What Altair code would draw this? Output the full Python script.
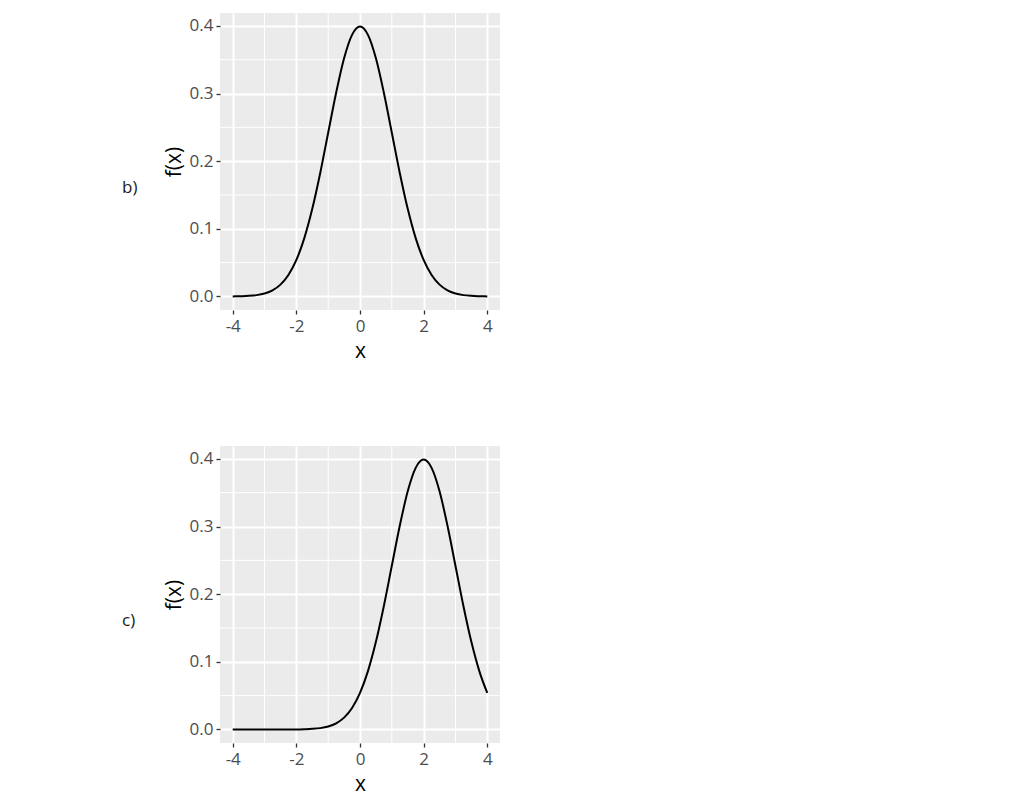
import altair as alt
import pandas as pd

# values
x_vals = [-4.0, -3.75, -3.5, -3.25, -3.0, -2.75, -2.5, -2.25, -2.0, -1.75, -1.5, -1.25,
          -1.0, -0.75, -0.5, -0.25, 0.0, 0.25, 0.5, 0.75, 1.0, 1.25, 1.5, 1.75,
          2.0, 2.25, 2.5, 2.75, 3.0, 3.25, 3.5, 3.75, 4.0]
fb_vals = [0.0001, 0.0004, 0.0009, 0.0020, 0.0044, 0.0091, 0.0175, 0.0317, 0.0540, 0.0863,
           0.1295, 0.1826, 0.2420, 0.3011, 0.3521, 0.3867, 0.3989, 0.3867, 0.3521, 0.3011,
           0.2420, 0.1826, 0.1295, 0.0863, 0.0540, 0.0317, 0.0175, 0.0091, 0.0044, 0.0020,
           0.0009, 0.0004, 0.0001]
fc_vals = [0.0, 0.0, 0.0, 0.0, 0.0, 0.0, 0.00002, 0.00004, 0.0001, 0.0004, 0.0009, 0.0020,
           0.0044, 0.0091, 0.0175, 0.0317, 0.0540, 0.0863, 0.1295, 0.1826, 0.2420, 0.3011,
           0.3521, 0.3867, 0.3989, 0.3867, 0.3521, 0.3011, 0.2420, 0.1826, 0.1295, 0.0863,
           0.0540]

x_ticks = [-4, -2, 0, 2, 4]
x_minor = [-3, -1, 1, 3]
y_ticks = [0.0, 0.1, 0.2, 0.3, 0.4]
y_minor = [0.05, 0.15, 0.25, 0.35]
panel_labels = ["b)", "c)"]

FONT = "Open Sans"
W, H = 280, 297

xscale = alt.Scale(domain=[-4.4, 4.4], nice=False, zero=False)
yscale = alt.Scale(domain=[-0.02, 0.419], nice=False, zero=False)


def panel(yvals, label):
    df = pd.DataFrame({"x": x_vals, "y": yvals})
    xminor = pd.DataFrame({"v": x_minor})
    yminor = pd.DataFrame({"v": y_minor})

    vminor = alt.Chart(xminor).mark_rule(color="white", strokeWidth=1).encode(
        x=alt.X("v:Q", scale=xscale)
    )
    hminor = alt.Chart(yminor).mark_rule(color="white", strokeWidth=1).encode(
        y=alt.Y("v:Q", scale=yscale)
    )
    line = alt.Chart(df).mark_line(color="black", strokeWidth=2, interpolate="monotone").encode(
        x=alt.X(
            "x:Q", scale=xscale, title="x",
            axis=alt.Axis(values=x_ticks,
                          labelExpr="datum.value < 0 ? '-' + abs(datum.value) : '' + datum.value"),
        ),
        y=alt.Y(
            "y:Q", scale=yscale, title="f(x)",
            axis=alt.Axis(values=y_ticks, format=".1f"),
        ),
    )
    lab = alt.Chart(pd.DataFrame({"t": [label]})).mark_text(
        align="left", baseline="middle", font=FONT, fontSize=17, color="#1a1a1a"
    ).encode(x=alt.value(-98), y=alt.value(175), text="t:N")

    return alt.layer(vminor, hminor, line, lab).properties(width=W, height=H)


chart = alt.vconcat(
    panel(fb_vals, panel_labels[0]),
    panel(fc_vals, panel_labels[1]),
    spacing=84,
).properties(
    padding={"left": 114, "top": 4, "right": 5, "bottom": 5},
    background="white",
).configure_view(
    fill="#EBEBEB", stroke=None
).configure_axis(
    grid=True, gridColor="white", gridWidth=2,
    domain=False,
    tickColor="#333333", tickSize=4, tickWidth=1.3,
    labelFont=FONT, labelFontSize=17, labelColor="#4D4D4D",
    titleFont=FONT, titleFontSize=21, titleColor="black", titleFontWeight="normal",
).configure_axisX(
    labelPadding=4, titlePadding=6,
).configure_axisY(
    labelPadding=3, titlePadding=5,
)

chart.save("out.html", embed_options={"renderer": "svg", "actions": False})
